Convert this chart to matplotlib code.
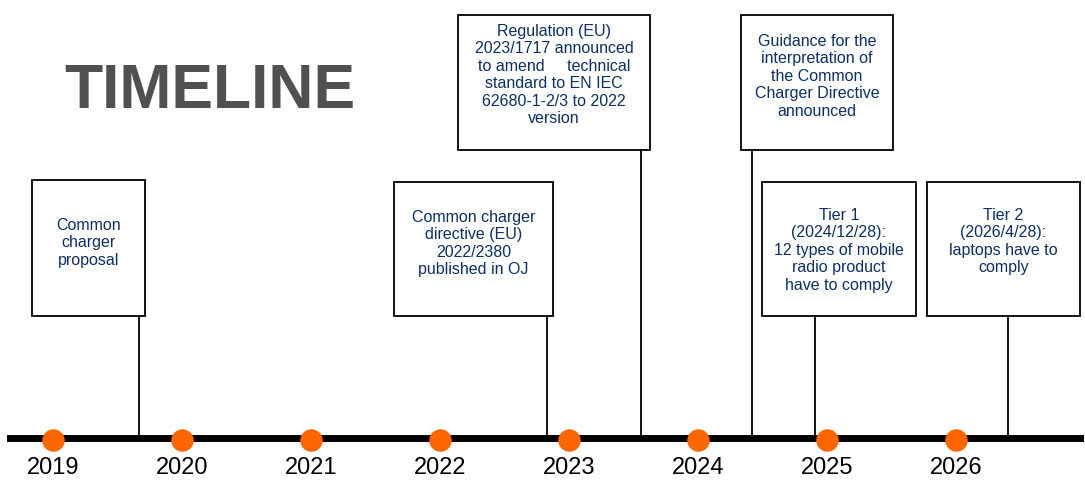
import matplotlib.pyplot as plt
import matplotlib.patches as patches

years = [2019, 2020, 2021, 2022, 2023, 2024, 2025, 2026]
event_dates = [2019.67, 2022.83, 2023.56, 2024.42, 2024.91, 2026.40]
event_texts = [
    "Common\ncharger\nproposal",
    "Common charger\ndirective (EU)\n2022/2380\npublished in OJ",
    "Regulation (EU)\n2023/1717 announced\nto amend     technical\nstandard to EN IEC\n62680-1-2/3 to 2022\nversion",
    "Guidance for the\ninterpretation of\nthe Common\nCharger Directive\nannounced",
    "Tier 1\n(2024/12/28):\n12 types of mobile\nradio product\nhave to comply",
    "Tier 2\n(2026/4/28):\nlaptops have to\ncomply",
]
# box extents in pixels: left, right, top, bottom, text top
boxes = [(32, 145, 180, 316, 218), (394, 553, 182, 316, 210), (458, 650, 15, 150, 24),
         (741, 893, 15, 150, 34), (762, 916, 182, 316, 208), (927, 1080, 182, 316, 208)]

plt.rcParams['font.family'] = ['Liberation Sans', 'DejaVu Sans']
fig = plt.figure(figsize=(10.85, 4.92), dpi=100)
ax = fig.add_axes([0, 0, 1, 1])
px = 129.0
x0 = 2019 - 53 / px
ax.set_xlim(x0, x0 + 1085 / px)
ax.set_ylim(492, 0)
ax.axis('off')

def tx(p):
    return x0 + p / px

ax.plot([tx(10), tx(1080)], [438, 438], color='black', lw=5, zorder=2)
ax.scatter(years, [440] * len(years), s=230, color='#ff6600', zorder=3)
for y in years:
    ax.text(y, 468, str(y), ha='center', va='center', fontsize=17)

for d, t, (l, r, top, bot, ttop) in zip(event_dates, event_texts, boxes):
    ax.plot([d, d], [bot, 438], color='black', lw=1.3, zorder=1)
    ax.add_patch(patches.Rectangle((tx(l), top), (r - l) / px, bot - top,
                                   fill=False, edgecolor='black', lw=1.3))
    ax.text(tx((l + r) / 2), ttop, t, ha='center', va='top', fontsize=11.5,
            color='#0b2f66', linespacing=1.2)

ax.text(tx(210), 92, "TIMELINE", ha='center', va='center', fontsize=45,
        fontweight='bold', color='#505050')

fig.savefig('out.png', dpi=100)
